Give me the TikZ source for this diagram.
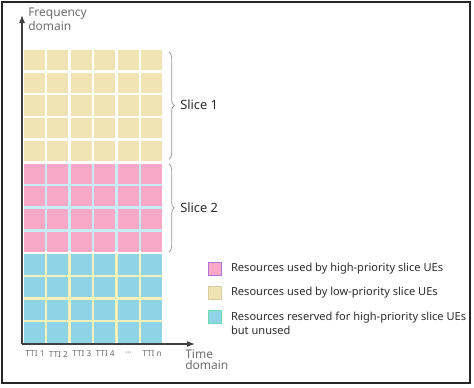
\documentclass[tikz,border=0pt]{standalone}
\usepackage{fontspec}
\setmainfont{Noto Sans}
\usepackage{tikz}
\usetikzlibrary{positioning, arrows.meta, calc, decorations.pathreplacing}

\definecolor{highcol}{RGB}{247,168,199}
\definecolor{lowcol}{RGB}{240,227,180}
\definecolor{resvcol}{RGB}{142,211,230}
\definecolor{highgap}{RGB}{200,236,245}
\definecolor{resvgap}{RGB}{244,240,184}
\definecolor{txtcol}{RGB}{45,45,45}
\definecolor{axcol}{RGB}{110,110,110}

\tikzset{
	axisline/.style={draw=black!75, line width=0.9pt, -{Latex[length=6pt,width=4.5pt]}},
	slicebrace/.style={draw=black!40, line width=0.6pt, decorate, decoration={brace, amplitude=4pt}},
	legendbox/.style={minimum width=13*0.75pt, minimum height=13*0.75pt, inner sep=0pt, line width=0.5pt},
	legendtxt/.style={anchor=west, inner sep=0.75pt, text=txtcol, font=\fontsize{8.3pt}{10.5pt}\selectfont, align=left},
	ttitxt/.style={inner sep=0.75pt, text=axcol, font=\fontsize{6.2pt}{7pt}\selectfont},
	axistxt/.style={anchor=north west, inner sep=0.75pt, text=axcol, font=\fontsize{9pt}{8.6pt}\selectfont, align=left},
	slicetxt/.style={anchor=west, inner sep=0.75pt, text=txtcol, font=\fontsize{9.6pt}{11pt}\selectfont}
}

\begin{document}
\begin{tikzpicture}[x=0.75pt,y=0.75pt,yscale=-1,xscale=1]
	\useasboundingbox (0,0) rectangle (474,387);
	%outer frame
	\draw [line width=1.6pt, draw=black!85] (2,2) rectangle (470,383);
	
	%Shape: gap backgrounds
	\fill [highgap] (24,163.5) rectangle (162,251.3);
	\fill [resvgap] (24,254.3) rectangle (162,342.1);
	%Shape: resource blocks, slice 1 (low priority)
	\foreach \c in {0,...,5}
		\foreach \r in {0,...,4}
			\fill [lowcol] ({24+\c*23.4},{50+\r*22.7}) rectangle +(20.9,20.2);
	%Shape: resource blocks, slice 2 (high priority)
	\foreach \c in {0,...,5}
		\foreach \r in {5,...,8}
			\fill [highcol] ({24+\c*23.4},{50+\r*22.7}) rectangle +(20.9,20.2);
	%Shape: reserved but unused
	\foreach \c in {0,...,5}
		\foreach \r in {9,...,12}
			\fill [resvcol] ({24+\c*23.4},{50+\r*22.7}) rectangle +(20.9,20.2);
	
	%Axes
	\coordinate (origin) at (22,344);
	\coordinate (ftip) at (22,15);
	\coordinate (ttip) at (195,344);
	\draw [axisline] (origin) -- (ftip);
	\draw [axisline] (origin) -- (ttip);
	
	%Braces
	\coordinate (s1top) at (169,52);
	\coordinate (s1bot) at (169,159);
	\coordinate (s2top) at (169,164);
	\coordinate (s2bot) at (169,252);
	\draw [slicebrace] (s1top) -- (s1bot);
	\draw [slicebrace] (s2top) -- (s2bot);
	
	% Text Node
	\draw (27,7) node [axistxt] (freq) {Frequency\\domain};
	% Text Node
	\draw (184,348) node [axistxt] (time) {Time\\domain};
	% Text Node
	\draw (179,105) node [slicetxt] (slicea) {Slice 1};
	% Text Node
	\draw (179,208) node [slicetxt] (sliceb) {Slice 2};
	% Text Node
	\draw (35,354) node [ttitxt] (tti1) {TTI 1};
	\draw (58.4,354) node [ttitxt] (tti2) {TTI 2};
	\draw (81.8,354) node [ttitxt] (tti3) {TTI 3};
	\draw (105.2,354) node [ttitxt] (tti4) {TTI 4};
	\draw (128.6,354) node [ttitxt] (ttidots) {\textperiodcentered\textperiodcentered\textperiodcentered};
	\draw (152,354) node [ttitxt] (ttin) {TTI n};
	
	%Legend
	\draw (215,269) node [legendbox, fill=highcol, draw=blue!30!highcol] (keyhigh) {};
	\draw (215,293) node [legendbox, fill=lowcol, draw=lowcol!90!black] (keylow) {};
	\draw (215,317) node [legendbox, fill=resvcol, draw=green!25!resvcol] (keyresv) {};
	% Text Node
	\draw (keyhigh.east) ++(8,0) node [legendtxt] (txthigh) {Resources used by high-priority slice UEs};
	% Text Node
	\draw (keylow.east) ++(8,0) node [legendtxt] (txtlow) {Resources used by low-priority slice UEs};
	% Text Node
	\draw (keyresv.east) ++(8,6.5) node [legendtxt] (txtresv) {Resources reserved for high-priority slice UEs\\but unused};
\end{tikzpicture}
\end{document}
